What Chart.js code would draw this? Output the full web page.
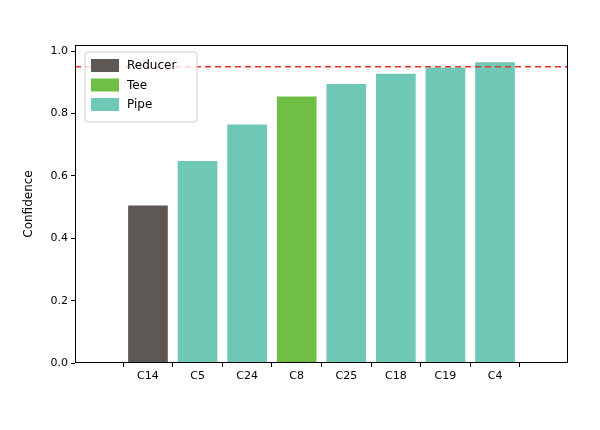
<!DOCTYPE html>
<html>
<head>
<meta charset="utf-8">
<script src="https://cdn.jsdelivr.net/npm/chart.js@4/dist/chart.umd.min.js"></script>
<style>
  body { margin: 0; background: #fff; }
  #wrap { width: 600px; height: 430px; }
</style>
</head>
<body>
<div id="wrap"><canvas id="myChart"></canvas></div>
<script>
const labels = ["C14", "C5", "C24", "C8", "C25", "C18", "C19", "C4"];
const values = [0.505, 0.648, 0.765, 0.855, 0.895, 0.928, 0.948, 0.965];
const kinds = ["Reducer", "Pipe", "Pipe", "Tee", "Pipe", "Pipe", "Pipe", "Pipe"];
const legendNames = ["Reducer", "Tee", "Pipe"];
const kindColors = { Reducer: "#5e5854", Tee: "#70bf44", Pipe: "#6fc8b6" };
const threshold = 0.95;
const yTicks = [0, 0.2, 0.4, 0.6, 0.8, 1.0];

Chart.defaults.font.family = "DejaVu Sans";
Chart.defaults.font.size = 11;
Chart.defaults.color = "#000";

// frame, threshold line and legend inside the plot
const extras = {
  id: "extras",
  afterDatasetsDraw(chart) {
    const { ctx, chartArea: a } = chart;
    const y = chart.scales.y.getPixelForValue(threshold);
    ctx.save();
    ctx.strokeStyle = "#e8332a";
    ctx.lineWidth = 1.5;
    ctx.setLineDash([6, 4]);
    ctx.beginPath();
    ctx.moveTo(a.left, y);
    ctx.lineTo(a.right, y);
    ctx.stroke();
    ctx.setLineDash([]);

    ctx.strokeStyle = "#000";
    ctx.lineWidth = 1;
    ctx.strokeRect(a.left + 0.5, a.top + 0.5, a.width - 1, a.height - 1);

    const lx = a.left + 10, ly = a.top + 7;
    ctx.fillStyle = "rgba(255,255,255,0.8)";
    ctx.strokeStyle = "#ccc";
    ctx.beginPath();
    ctx.roundRect(lx, ly, 112, 70, 3);
    ctx.fill();
    ctx.stroke();
    ctx.font = "12px DejaVu Sans";
    ctx.textBaseline = "middle";
    legendNames.forEach((n, i) => {
      const ry = ly + 7 + i * 19.5;
      ctx.fillStyle = kindColors[n];
      ctx.fillRect(lx + 6, ry, 28, 13);
      ctx.fillStyle = "#000";
      ctx.fillText(n, lx + 42, ry + 7);
    });
    ctx.restore();
  }
};

new Chart("myChart", {
  type: "bar",
  data: {
    datasets: [{
      data: values.map((v, i) => ({ x: i, y: v })),
      backgroundColor: kinds.map(k => kindColors[k]),
      barPercentage: 0.8,
      categoryPercentage: 1.0
    }]
  },
  options: {
    responsive: true,
    maintainAspectRatio: false,
    animation: false,
    layout: { padding: { left: 18, right: 32, top: 45, bottom: 37 } },
    plugins: { legend: { display: false }, tooltip: { enabled: false } },
    scales: {
      x: {
        type: "linear",
        min: -0.85,
        max: labels.length - 0.15,
        afterBuildTicks(s) { s.ticks = labels.map((l, i) => ({ value: i })); },
        grid: { drawOnChartArea: false, tickLength: 4, color: "#000" },
        border: { display: false },
        ticks: { padding: 3, callback: v => labels[v] },
        afterFit(s) { s.height = 30; }
      },
      y: {
        min: 0,
        max: 1.02,
        afterBuildTicks(s) { s.ticks = yTicks.map(v => ({ value: v })); },
        grid: { drawOnChartArea: false, tickLength: 4, color: "#000" },
        border: { display: false },
        ticks: { padding: 3, callback: v => v.toFixed(1) },
        title: { display: true, text: "Confidence", font: { size: 12 } },
        afterFit(s) { s.width = 57; }
      }
    }
  },
  plugins: [extras]
});
</script>
</body>
</html>
